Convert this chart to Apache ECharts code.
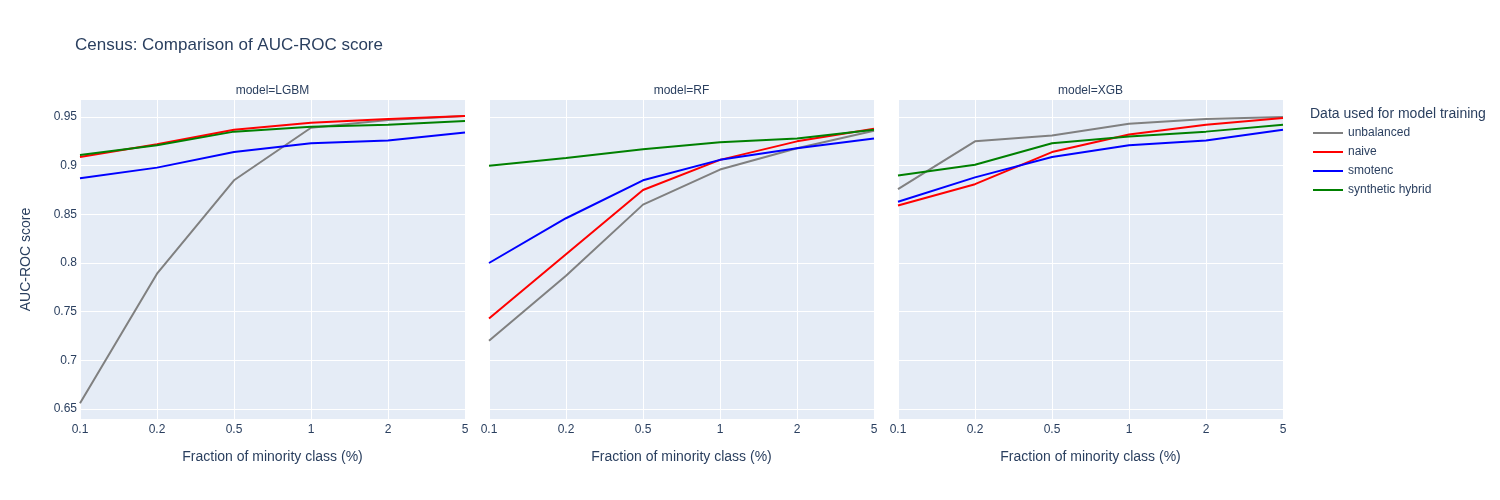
<!DOCTYPE html>
<html>
<head>
<meta charset="utf-8">
<script src="https://cdn.jsdelivr.net/npm/echarts@6/dist/echarts.min.js"></script>
<style>
  html, body { margin: 0; padding: 0; background: #fff; }
  #chart { width: 1500px; height: 500px; }
</style>
</head>
<body>
<div id="chart"></div>
<script>
// fraction of minority class (%), evenly spaced like the reference
const fractions = ['0.1', '0.2', '0.5', '1', '2', '5'];
const models = ['LGBM', 'RF', 'XGB'];
const methods = ['unbalanced', 'naive', 'smotenc', 'synthetic hybrid'];
const colors = ['grey', 'red', 'blue', 'green'];

// AUC-ROC per model, one array per method
const lgbmUnbalanced = [0.656, 0.789, 0.885, 0.939, 0.947, 0.951];
const lgbmNaive = [0.909, 0.922, 0.937, 0.944, 0.948, 0.951];
const lgbmSmotenc = [0.887, 0.898, 0.914, 0.923, 0.926, 0.934];
const lgbmHybrid = [0.911, 0.921, 0.935, 0.940, 0.942, 0.946];

const rfUnbalanced = [0.720, 0.787, 0.860, 0.896, 0.918, 0.936];
const rfNaive = [0.743, 0.809, 0.875, 0.906, 0.925, 0.938];
const rfSmotenc = [0.800, 0.846, 0.885, 0.906, 0.918, 0.928];
const rfHybrid = [0.900, 0.908, 0.917, 0.924, 0.928, 0.937];

const xgbUnbalanced = [0.876, 0.925, 0.931, 0.943, 0.948, 0.950];
const xgbNaive = [0.859, 0.881, 0.914, 0.932, 0.942, 0.949];
const xgbSmotenc = [0.863, 0.888, 0.909, 0.921, 0.926, 0.937];
const xgbHybrid = [0.890, 0.901, 0.923, 0.930, 0.935, 0.942];

const scores = [
    [lgbmUnbalanced, lgbmNaive, lgbmSmotenc, lgbmHybrid],
    [rfUnbalanced, rfNaive, rfSmotenc, rfHybrid],
    [xgbUnbalanced, xgbNaive, xgbSmotenc, xgbHybrid]
];

const textColor = '#2a3f5f';
const font = 'Liberation Sans, Arial, sans-serif';
const gridLefts = [80, 489, 898];
const gridWidth = 385;

const chart = echarts.init(document.getElementById('chart'));

const grids = gridLefts.map(left => ({
    left: left,
    top: 100,
    width: gridWidth,
    height: 319,
    show: true,
    backgroundColor: '#E5ECF6',
    borderWidth: 0
}));

const xAxes = models.map((m, i) => ({
    type: 'category',
    gridIndex: i,
    data: fractions,
    boundaryGap: false,
    name: 'Fraction of minority class (%)',
    nameLocation: 'middle',
    nameGap: 31,
    nameTextStyle: { color: textColor, fontSize: 14, fontFamily: font },
    axisLine: { show: false },
    axisTick: { show: false },
    axisLabel: { color: textColor, fontSize: 12, fontFamily: font, margin: 5 },
    splitLine: { show: true, lineStyle: { color: '#fff', width: 1 } }
}));

const yAxes = models.map((m, i) => ({
    type: 'value',
    gridIndex: i,
    min: 0.6397,
    max: 0.9675,
    splitNumber: 7,
    name: i === 0 ? 'AUC-ROC score' : '',
    nameLocation: 'middle',
    nameRotate: 90,
    nameGap: 47,
    nameTextStyle: { color: textColor, fontSize: 14, fontFamily: font },
    axisLine: { show: false },
    axisTick: { show: false },
    axisLabel: {
        show: i === 0,
        color: textColor,
        fontSize: 12,
        fontFamily: font,
        margin: 3,
        padding: [5, 0, 0, 0],
        showMinLabel: false,
        showMaxLabel: false
    },
    splitLine: {
        show: true,
        showMinLine: false,
        showMaxLine: false,
        lineStyle: { color: '#fff', width: 1 }
    }
}));

const series = [];
models.forEach((m, i) => {
    methods.forEach((name, j) => {
        series.push({
            name: name,
            type: 'line',
            xAxisIndex: i,
            yAxisIndex: i,
            data: scores[i][j],
            symbol: 'none',
            lineStyle: { color: colors[j], width: 2 },
            itemStyle: { color: colors[j] },
            emphasis: { disabled: true }
        });
    });
});

const graphics = [
    {
        type: 'text', left: 75, top: 37,
        style: { text: 'Census: Comparison of AUC-ROC score', fill: textColor, fontSize: 17, fontFamily: font }
    },
    {
        type: 'text', left: 1310, top: 107,
        style: { text: 'Data used for model training', fill: textColor, fontSize: 14, fontFamily: font }
    }
];
models.forEach((m, i) => {
    graphics.push({
        type: 'text',
        x: gridLefts[i] + gridWidth / 2,
        y: 91,
        style: {
            text: 'model=' + m, fill: textColor, fontSize: 12, fontFamily: font,
            align: 'center', verticalAlign: 'middle'
        }
    });
});

chart.setOption({
    animation: false,
    backgroundColor: '#fff',
    grid: grids,
    xAxis: xAxes,
    yAxis: yAxes,
    series: series,
    legend: {
        data: methods,
        orient: 'vertical',
        left: 1313,
        top: 126,
        padding: 0,
        itemWidth: 30,
        itemHeight: 14,
        itemGap: 5,
        icon: 'path://M0,6 L30,6 L30,8 L0,8 Z',
        textStyle: { color: textColor, fontSize: 12, fontFamily: font, lineHeight: 14 },
        selectedMode: false
    },
    graphic: graphics
});
</script>
</body>
</html>
